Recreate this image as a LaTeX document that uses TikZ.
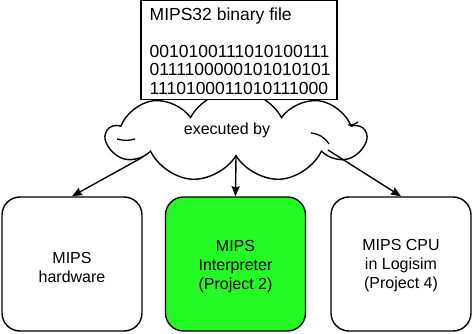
\documentclass[tikz,border=0pt]{standalone}
\usepackage{fontspec}
\setmainfont{Liberation Sans}
\usetikzlibrary{shapes.symbols,arrows.meta,calc}
\definecolor{boxgreen}{RGB}{36,250,36}
\begin{document}
\begin{tikzpicture}[x=1pt,y=-1pt,
  every node/.style={font=\fontsize{16pt}{19pt}\selectfont},
  edge/.style={line width=1.4pt},
  curl/.style={line width=1.3pt},
  arr/.style={edge,-{Stealth[length=10pt,width=8pt,inset=1pt]}},
  filebox/.style={draw,edge,minimum width=196pt,minimum height=99pt,inner sep=0pt},
  rbox/.style={draw,edge,rounded corners=18pt,minimum width=140pt,minimum height=134pt,inner sep=0pt},
  boxtext/.style={align=center,inner sep=0pt},
  cloudnode/.style={cloud,draw,edge,cloud puffs=9,cloud puff arc=125,aspect=2.9,minimum width=258pt,minimum height=92pt,inner sep=0pt}
]
\useasboundingbox (0,0) rectangle (474,334);
% cloud
\node[cloudnode] (cloud) at (236,136) {};
\node (exec) at (227,130) {executed by};
% cloud curls
\draw[curl] ($(cloud.center)+(-119,3)$) to[bend right=15] ($(cloud.center)+(-101,3)$);
\draw[curl] ($(cloud.center)+(75,-3)$) to[bend left=25] ($(cloud.center)+(93,8)$);
\draw[curl] ($(cloud.center)+(112,-11)$) to[bend right=20] ($(cloud.center)+(122,-14)$);
% file box
\node[filebox,fill=white] (bin) at (239,50) {};
\node[anchor=north west,align=left,inner sep=0pt,font=\fontsize{17.5pt}{18.5pt}\selectfont] (bintext) at (149.5,7.5)
  {MIPS32 binary file\\ ~\\ 0010100111010100111\\ 0111100000101010101\\ 1110100011010111000};
% boxes
\node[rbox] (hw) at (72,264) {};
\node[rbox,fill=boxgreen] (interp) at (235.5,264) {};
\node[rbox] (cpu) at (401,264) {};
\node[boxtext] (hwt) at (72,267) {MIPS\\hardware};
\node[boxtext] (interpt) at (235.5,267) {MIPS\\Interpreter\\(Project 2)};
\node[boxtext] (cput) at (401,266) {MIPS CPU\\in Logisim\\(Project 4)};
% arrows
\draw[arr] ($(cloud.center)+(-93,21)$) -- (hw.north);
\draw[arr] (cloud.south) -- (interp.north);
\draw[arr] ($(cloud.center)+(92,14)$) -- (cpu.north);
\end{tikzpicture}
\end{document}
